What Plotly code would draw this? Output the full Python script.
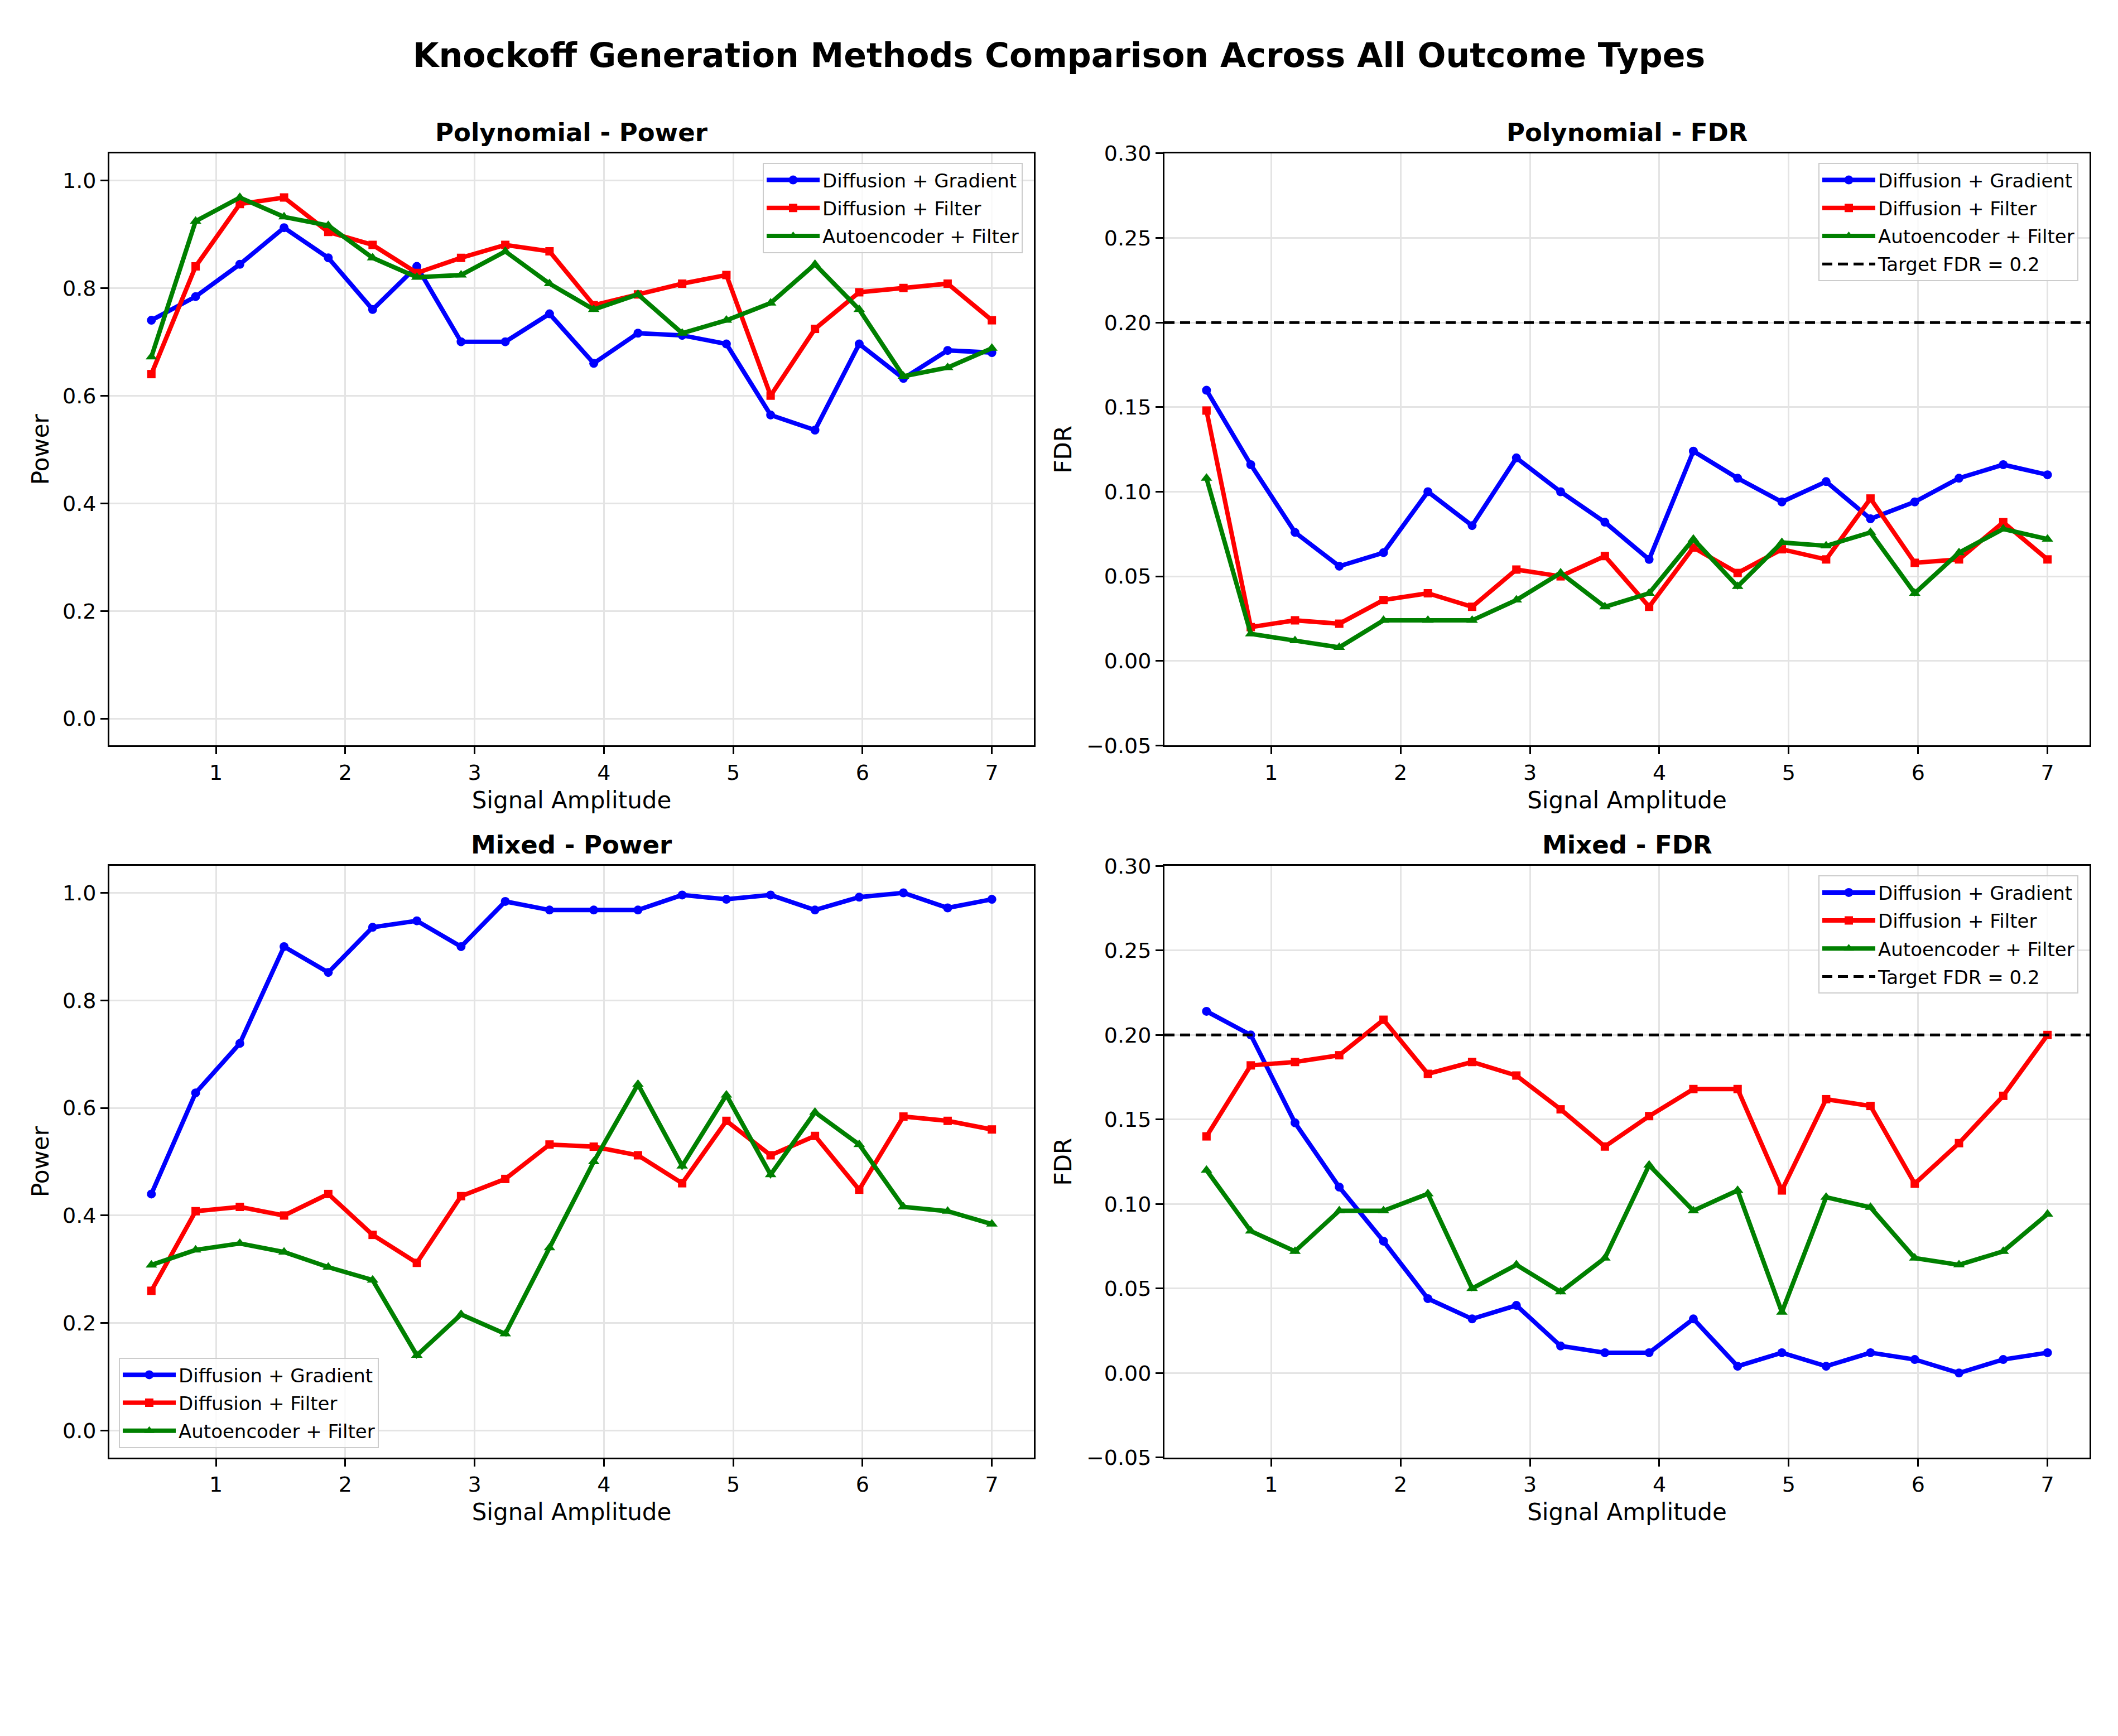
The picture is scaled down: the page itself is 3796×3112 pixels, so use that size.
import plotly.graph_objects as go

# ---------------- data ----------------
AMPLITUDE = [0.5, 0.842, 1.184, 1.526, 1.868, 2.211, 2.553, 2.895, 3.237, 3.579,
             3.921, 4.263, 4.605, 4.947, 5.289, 5.632, 5.974, 6.316, 6.658, 7.0]

METHODS = ["Diffusion + Gradient", "Diffusion + Filter", "Autoencoder + Filter"]

POLY_POWER_GRAD = [0.740, 0.784, 0.844, 0.912, 0.856, 0.760, 0.840, 0.700, 0.700, 0.752,
                   0.660, 0.716, 0.712, 0.696, 0.564, 0.536, 0.696, 0.632, 0.684, 0.680]
POLY_POWER_DFILT = [0.640, 0.840, 0.956, 0.968, 0.904, 0.880, 0.828, 0.856, 0.880, 0.868,
                    0.768, 0.788, 0.808, 0.824, 0.600, 0.724, 0.792, 0.800, 0.808, 0.740]
POLY_POWER_AFILT = [0.672, 0.924, 0.968, 0.932, 0.916, 0.856, 0.820, 0.824, 0.868, 0.808,
                    0.760, 0.788, 0.716, 0.740, 0.772, 0.844, 0.760, 0.636, 0.652, 0.688]

POLY_FDR_GRAD = [0.160, 0.116, 0.076, 0.056, 0.064, 0.100, 0.080, 0.120, 0.100, 0.082,
                 0.060, 0.124, 0.108, 0.094, 0.106, 0.084, 0.094, 0.108, 0.116, 0.110]
POLY_FDR_DFILT = [0.148, 0.020, 0.024, 0.022, 0.036, 0.040, 0.032, 0.054, 0.050, 0.062,
                  0.032, 0.067, 0.052, 0.066, 0.060, 0.096, 0.058, 0.060, 0.082, 0.060]
POLY_FDR_AFILT = [0.108, 0.016, 0.012, 0.008, 0.024, 0.024, 0.024, 0.036, 0.052, 0.032,
                  0.040, 0.072, 0.044, 0.070, 0.068, 0.076, 0.040, 0.064, 0.078, 0.072]

MIXED_POWER_GRAD = [0.440, 0.628, 0.720, 0.900, 0.852, 0.936, 0.948, 0.900, 0.984, 0.968,
                    0.968, 0.968, 0.996, 0.988, 0.996, 0.968, 0.992, 1.000, 0.972, 0.988]
MIXED_POWER_DFILT = [0.260, 0.408, 0.416, 0.400, 0.440, 0.364, 0.312, 0.436, 0.468, 0.532,
                     0.528, 0.512, 0.460, 0.576, 0.512, 0.548, 0.448, 0.584, 0.576, 0.560]
MIXED_POWER_AFILT = [0.308, 0.336, 0.348, 0.332, 0.304, 0.280, 0.140, 0.216, 0.180, 0.340,
                     0.500, 0.644, 0.492, 0.624, 0.476, 0.592, 0.532, 0.416, 0.408, 0.384]

MIXED_FDR_GRAD = [0.214, 0.200, 0.148, 0.110, 0.078, 0.044, 0.032, 0.040, 0.016, 0.012,
                  0.012, 0.032, 0.004, 0.012, 0.004, 0.012, 0.008, 0.000, 0.008, 0.012]
MIXED_FDR_DFILT = [0.140, 0.182, 0.184, 0.188, 0.209, 0.177, 0.184, 0.176, 0.156, 0.134,
                   0.152, 0.168, 0.168, 0.108, 0.162, 0.158, 0.112, 0.136, 0.164, 0.200]
MIXED_FDR_AFILT = [0.120, 0.084, 0.072, 0.096, 0.096, 0.106, 0.050, 0.064, 0.048, 0.068,
                   0.123, 0.096, 0.108, 0.036, 0.104, 0.098, 0.068, 0.064, 0.072, 0.094]

TARGET_FDR = 0.2

TITLES = ["Polynomial - Power", "Polynomial - FDR", "Mixed - Power", "Mixed - FDR"]
POWER_TICKS = [0.0, 0.2, 0.4, 0.6, 0.8, 1.0]
FDR_TICKS = [-0.05, 0.0, 0.05, 0.10, 0.15, 0.20, 0.25, 0.30]
X_TICKS = [1, 2, 3, 4, 5, 6, 7]

# ---------------- layout geometry (window pixels) ----------------
WIN_W, WIN_H = 3796, 3112
BODY = 8                      # default page margin around the plot div
FW, FH = WIN_W - 2 * BODY, WIN_H - 2 * BODY
V_SCALE, V_OFF = 0.9863, 20   # observed vertical mapping of the photographed page


def px(xw):
    return (xw - BODY) / FW


def py(yw):
    page_y = (yw - V_OFF) / V_SCALE
    return 1 - (page_y - BODY) / FH


COL_X = [(196, 1853), (2087, 3745)]
ROW_Y = [(273, 1335), (1551, 2612)]

COLORS = ["#0000ff", "#ff0000", "#008000"]
SYMBOLS = ["circle", "square", "triangle-up"]
MSIZES = [16, 15, 18]
FONT = "DejaVu Sans"
INSET = 20

panels = [
    dict(series=[POLY_POWER_GRAD, POLY_POWER_DFILT, POLY_POWER_AFILT], kind="power", col=0, row=0,
         legend=dict(x=px(COL_X[0][1] - INSET), y=py(ROW_Y[0][0] + 17), xanchor="right", yanchor="top")),
    dict(series=[POLY_FDR_GRAD, POLY_FDR_DFILT, POLY_FDR_AFILT], kind="fdr", col=1, row=0,
         legend=dict(x=px(COL_X[1][1] - INSET), y=py(ROW_Y[0][0] + 17), xanchor="right", yanchor="top")),
    dict(series=[MIXED_POWER_GRAD, MIXED_POWER_DFILT, MIXED_POWER_AFILT], kind="power", col=0, row=1,
         legend=dict(x=px(COL_X[0][0] + 17), y=py(ROW_Y[1][1] - 17), xanchor="left", yanchor="bottom")),
    dict(series=[MIXED_FDR_GRAD, MIXED_FDR_DFILT, MIXED_FDR_AFILT], kind="fdr", col=1, row=1,
         legend=dict(x=px(COL_X[1][1] - INSET), y=py(ROW_Y[1][0] + 17), xanchor="right", yanchor="top")),
]

fig = go.Figure()
layout = dict(
    width=FW, height=FH, autosize=False,
    margin=dict(l=0, r=0, t=0, b=0),
    paper_bgcolor="white", plot_bgcolor="white",
    font=dict(family=FONT, color="black", size=34),
    showlegend=True,
    shapes=[], annotations=[],
)

for i, p in enumerate(panels):
    n = i + 1
    xa = "x" if n == 1 else f"x{n}"
    ya = "y" if n == 1 else f"y{n}"
    lg = "legend" if n == 1 else f"legend{n}"
    for j, vals in enumerate(p["series"]):
        fig.add_trace(go.Scatter(
            x=AMPLITUDE, y=vals, mode="lines+markers", name=METHODS[j],
            line=dict(color=COLORS[j], width=8),
            marker=dict(symbol=SYMBOLS[j], size=MSIZES[j], color=COLORS[j]),
            xaxis=xa, yaxis=ya, legend=lg, legendgroup=f"{lg}_{j}",
        ))
    if p["kind"] == "fdr":
        fig.add_trace(go.Scatter(
            x=[None], y=[None], mode="lines", name=f"Target FDR = {TARGET_FDR}",
            line=dict(color="black", width=5, dash="18px,10px"),
            xaxis=xa, yaxis=ya, legend=lg, legendgroup=f"{lg}_t",
        ))
        layout["shapes"].append(dict(
            type="line", xref=f"{xa} domain", yref=ya, x0=0, x1=1,
            y0=TARGET_FDR, y1=TARGET_FDR,
            line=dict(color="black", width=5, dash="18px,10px"), layer="above",
        ))

    axis_common = dict(
        showline=True, mirror=True, linecolor="black", linewidth=3,
        ticks="outside", ticklen=13, tickwidth=3, tickcolor="black",
        showgrid=True, gridcolor="#e4e4e4", gridwidth=3, zeroline=False,
        tickfont=dict(size=38, family=FONT, color="black"),
    )
    xd = [px(COL_X[p["col"]][0]), px(COL_X[p["col"]][1])]
    yd = [py(ROW_Y[p["row"]][1]), py(ROW_Y[p["row"]][0])]
    xkey = "xaxis" if n == 1 else f"xaxis{n}"
    ykey = "yaxis" if n == 1 else f"yaxis{n}"
    layout[xkey] = dict(
        axis_common, domain=xd, anchor=ya,
        range=[0.175, 7.325], tickvals=X_TICKS,
        title=dict(text="Signal Amplitude", font=dict(size=42, family=FONT), standoff=14),
    )
    if p["kind"] == "power":
        layout[ykey] = dict(
            axis_common, domain=yd, anchor=xa,
            range=[-0.05, 1.05], tickvals=POWER_TICKS, tickformat=".1f",
            title=dict(text="Power", font=dict(size=42, family=FONT), standoff=12),
        )
    else:
        layout[ykey] = dict(
            axis_common, domain=yd, anchor=xa,
            range=[-0.05, 0.30], tickvals=FDR_TICKS, tickformat=".2f",
            title=dict(text="FDR", font=dict(size=42, family=FONT), standoff=14),
        )
    layout[lg] = dict(
        p["legend"], bgcolor="rgba(255,255,255,0.8)", bordercolor="#cccccc", borderwidth=2,
        font=dict(size=34, family=FONT, color="black"), itemwidth=95,
        traceorder="grouped", tracegroupgap=3,
    )
    layout["annotations"].append(dict(
        text=f"<b>{TITLES[i]}</b>", xref="paper", yref="paper",
        x=(xd[0] + xd[1]) / 2, y=yd[1] + 9 / FH, xanchor="center", yanchor="bottom",
        showarrow=False, font=dict(size=45, family=FONT, color="black"),
    ))

layout["annotations"].append(dict(
    text="<b>Knockoff Generation Methods Comparison Across All Outcome Types</b>",
    xref="paper", yref="paper", x=px(WIN_W / 2), y=py(97), xanchor="center", yanchor="middle",
    showarrow=False, font=dict(size=60, family=FONT, color="black"),
))

fig.update_layout(**layout)
fig.write_html("out.html")
